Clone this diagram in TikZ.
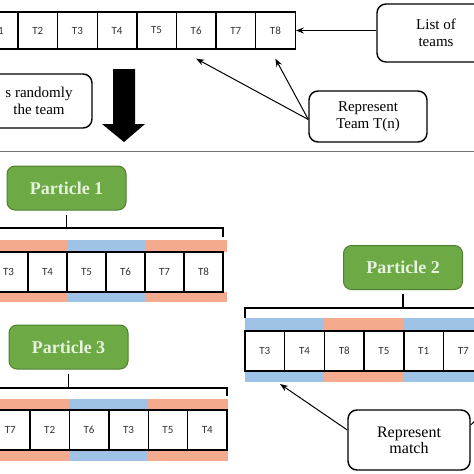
\documentclass[tikz,border=0pt]{standalone}
\usepackage{fontspec}
\setmainfont{Liberation Serif}
\newfontfamily\cellfont{Carlito}
\usetikzlibrary{arrows.meta,calc}
\definecolor{salmon}{HTML}{F4AA8C}
\definecolor{lblue}{HTML}{9FC3E7}
\definecolor{pgreen}{HTML}{6DAA45}
\definecolor{pgreendark}{HTML}{507E32}
\definecolor{ptext}{HTML}{E6F2DD}
\begin{document}
\begin{tikzpicture}[x=1pt,y=-1pt,
  cell/.style={draw=black,line width=1.4pt,fill=white,inner sep=0pt,
    minimum width=#1,minimum height=40pt,font=\cellfont\fontsize{11}{12}\selectfont,text=black!80},
  cell/.default=39.4pt,
  rbox/.style={draw=black,line width=1.4pt,rounded corners=9pt,fill=white,align=center,
    inner sep=0pt,font=\fontsize{15}{17}\selectfont},
  part/.style={draw=pgreendark,line width=1pt,fill=pgreen,rounded corners=8pt,
    minimum width=119pt,minimum height=44pt,inner sep=0pt,text=ptext,
    font=\bfseries\fontsize{18}{20}\selectfont},
  bracket/.style={draw=black,line width=1.5pt},
  pointer/.style={draw=black,line width=1pt,-{Stealth[length=8pt,width=6pt]}},
  plain/.style={draw=black,line width=1pt}
]
\useasboundingbox (0,0) rectangle (474,474);
\clip (0,0) rectangle (474,474);

% ---------- top list ----------
\foreach \i in {1,...,8}
  \node[cell=39.6pt,minimum height=37pt] (t\i) at ({18+(\i-2)*39.6+19.8},30.5) {T\i};

\node[rbox,minimum width=118pt,minimum height=58pt] (lt) at (436,33)
  {List of\\teams};
\draw[pointer] (lt.west |- t8.east) -- (t8.east);

\node[rbox,minimum width=118pt,minimum height=51pt] (rt) at (368,116.5)
  {Represent\\Team T(n)};
\draw[pointer] ([yshift=-3pt]rt.west) -- ([yshift=-9pt]t6.south);
\draw[pointer] ([yshift=-3pt]rt.west) -- ([yshift=-9pt]t8.south);

\node[rbox,minimum width=106pt,minimum height=54pt] (rd) at (39,101)
  {s randomly\\the team};

% big arrow
\fill[black] (113,69) -- (135,69) -- (135,124) -- (145,124) -- (124,142)
  -- (102,124) -- (113,124) -- cycle;

% separator
\draw[black!55,line width=0.9pt] (0,151) -- (474,151);

% ---------- Particle 1 ----------
\node[part] (p1) at (66.5,188) {Particle 1};
\fill[salmon] (-89,240) rectangle (67,252);  \fill[salmon] (-89,292) rectangle (67,302);
\fill[lblue]  (67,240) rectangle (145,252);  \fill[lblue]  (67,292) rectangle (145,302);
\fill[salmon] (145,240) rectangle (227,252); \fill[salmon] (145,292) rectangle (227,302);
\foreach \lab [count=\i] in {T3,T4,T5,T6,T7,T8}
  \node[cell=39pt] (a\i) at ({-11+(\i-1)*39+19.5},272) {\lab};
\draw[bracket] ([yshift=-4pt]p1.south) -- (p1.south |- 0,228);
\draw[bracket] (-89,237) -- (-89,228) -- (223,228) -- (223,237);

% ---------- Particle 2 ----------
\node[part] (p2) at (403,267.5) {Particle 2};
\fill[lblue]  (245,318) rectangle (324,331); \fill[lblue]  (245,371) rectangle (324,382);
\fill[salmon] (324,318) rectangle (403,331); \fill[salmon] (324,371) rectangle (403,382);
\fill[lblue]  (403,318) rectangle (482,331); \fill[lblue]  (403,371) rectangle (482,382);
\foreach \lab [count=\i] in {T3,T4,T8,T5,T1,T7}
  \node[cell=39.7pt] (b\i) at ({245+(\i-1)*39.7+19.85},351) {\lab};
\draw[bracket] ([yshift=-4pt]p2.south) -- (p2.south |- 0,308);
\draw[bracket] (245,318) -- (245,308) -- (563,308) -- (563,318);

% ---------- Particle 3 ----------
\node[part] (p3) at (68.5,347) {Particle 3};
\fill[salmon] (-88,399) rectangle (69,410);  \fill[salmon] (-88,450) rectangle (69,461);
\fill[lblue]  (69,399) rectangle (148,410);  \fill[lblue]  (69,450) rectangle (148,461);
\fill[salmon] (148,399) rectangle (228,410); \fill[salmon] (148,450) rectangle (228,461);
\foreach \lab [count=\i] in {T7,T2,T6,T3,T5,T4}
  \node[cell=39.4pt] (c\i) at ({-9.4+(\i-1)*39.4+19.7},430) {\lab};
\draw[bracket] ([yshift=-4pt]p3.south) -- (p3.south |- 0,388);
\draw[bracket] (-88,396) -- (-88,388) -- (227,388) -- (227,396);

% ---------- Represent match ----------
\node[rbox,minimum width=122pt,minimum height=60pt,font=\fontsize{16}{16}\selectfont] (rm) at (409,440)
  {Represent\\match};
\coordinate (m1) at (280,384);
\coordinate (m2) at (492,405);
\draw[pointer] ([yshift=10pt]rm.west) -- (m1);
\draw[plain] ([yshift=15pt]rm.east) -- (m2);
\end{tikzpicture}
\end{document}
